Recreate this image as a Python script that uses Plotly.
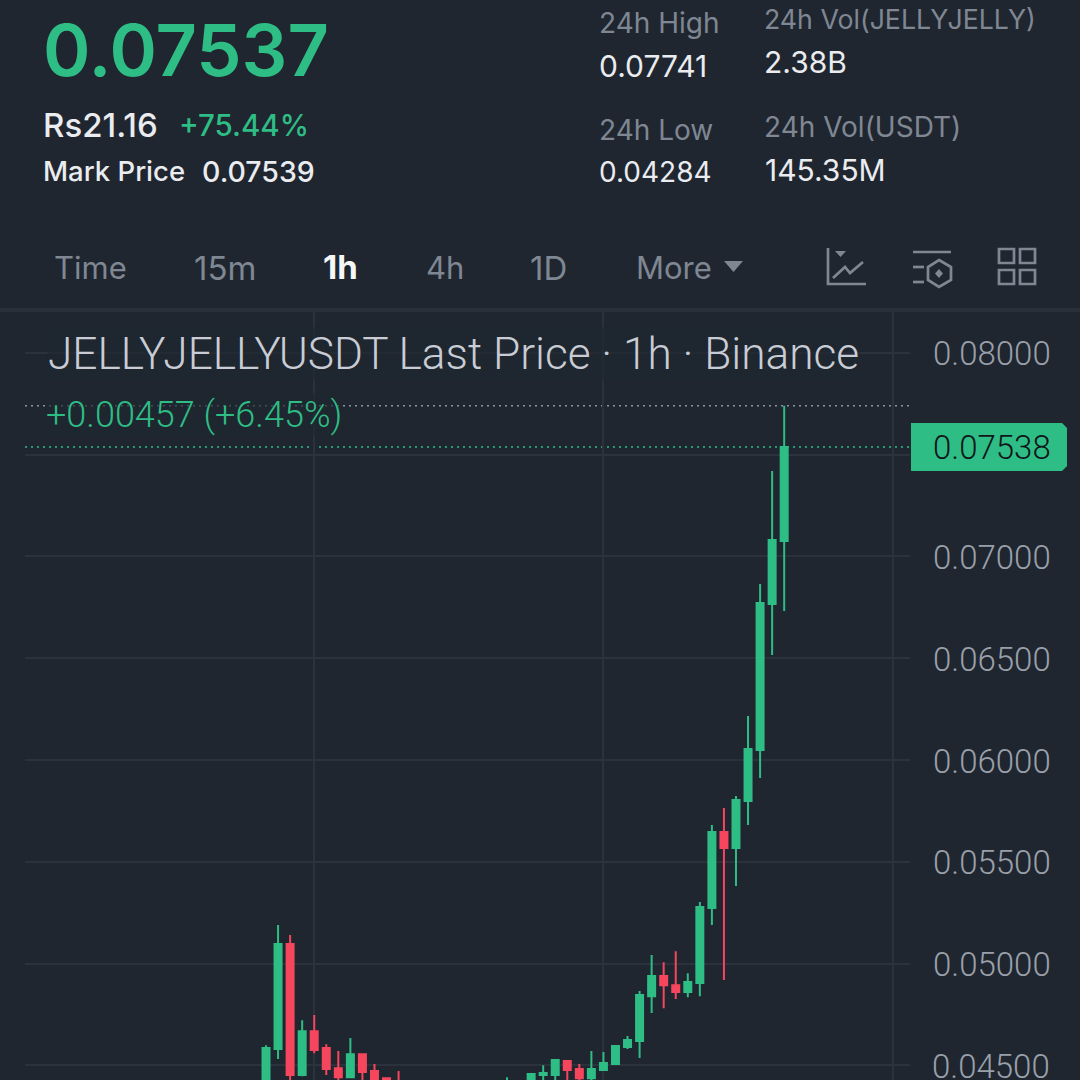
import plotly.graph_objects as go

# ---- data ----
OPEN = [0.0430,0.0458,0.05096,0.04452,0.04668,0.04585,0.04486,0.04442,0.04555,0.04472,0.04437,0.0442,
        0.0439,0.0436,0.0434,0.0433,0.0431,0.0430,0.0432,0.0431,0.0432,0.0433,0.0434,0.04452,0.04452,
        0.04521,0.04482,0.04437,0.04477,0.04506,0.0459,0.04619,0.0484,0.04939,0.04894,0.0486,0.04904,
        0.05273,0.05646,0.05568,0.05799,0.06049,0.06767,0.07076]
CLOSE = [0.04585,0.05096,0.04452,0.04668,0.04575,0.04482,0.04442,0.04555,0.04467,0.04432,0.0441,0.0439,
         0.0436,0.0434,0.0433,0.0431,0.0430,0.0432,0.0431,0.0432,0.0433,0.0434,0.04457,0.04462,0.04526,
         0.04477,0.04437,0.04482,0.04511,0.04595,0.04624,0.04845,0.04939,0.04894,0.0486,0.04909,0.05278,
         0.05646,0.05568,0.05803,0.06054,0.06771,0.07081,0.07538]
HIGH = [0.04599,0.05189,0.0514,0.04722,0.04747,0.04604,0.0457,0.04634,0.0456,0.04506,0.04437,0.04472,
        0.0438,0.0437,0.0436,0.0434,0.0433,0.0433,0.0434,0.0433,0.04442,0.0436,0.04462,0.04501,0.04531,
        0.04521,0.04506,0.0457,0.04565,0.04599,0.04644,0.04865,0.05042,0.05007,0.05061,0.04953,0.05302,
        0.05681,0.05764,0.05823,0.06216,0.06865,0.0742,0.07741]
LOW = [0.04284,0.04531,0.0441,0.04447,0.0456,0.04452,0.0441,0.0444,0.0441,0.0440,0.0438,0.0437,
       0.0434,0.0432,0.0431,0.0429,0.0429,0.0429,0.0430,0.0430,0.0431,0.0432,0.0432,0.0441,0.0442,
       0.0442,0.0442,0.0442,0.04477,0.04506,0.0458,0.04536,0.04757,0.04781,0.04826,0.04835,0.0484,
       0.05189,0.04919,0.05381,0.05681,0.05912,0.06516,0.06732]
CANDLE = list(range(len(OPEN)))

PRICE_TICKS = [0.08, 0.075, 0.07, 0.065, 0.06, 0.055, 0.05, 0.045]
PRICE_LABELS = ["0.08000", "", "0.07000", "0.06500", "0.06000", "0.05500", "0.05000", ""]
BOTTOM_TICK = 0.045
BOTTOM_LABEL = "0.04500"
TIME_TICKS = [4, 28, 52]
HIGH_LINE = 0.07741
LAST_LINE = 0.07538

STATS = [
    ("0.07537", 42, 49, 72, 600, "up"),
    ("Rs21.16", 42, 125, 33, 500, "white"),
    ("+75.44%", 178, 125, 29.5, 500, "up"),
    ("Mark Price", 42, 171, 27.5, 500, "white"),
    ("0.07539", 201, 171, 28.5, 500, "white"),
    ("24h High", 598, 23, 28, 400, "grey"),
    ("0.07741", 598, 66, 30, 400, "white"),
    ("24h Low", 598, 130, 28, 400, "grey"),
    ("0.04284", 598, 172, 28, 400, "white"),
    ("24h Vol(JELLYJELLY)", 763, 19, 26.7, 400, "grey"),
    ("2.38B", 763, 62, 30, 400, "white"),
    ("24h Vol(USDT)", 763, 127, 28, 400, "grey"),
    ("145.35M", 764, 170, 30, 400, "white"),
    ("Time", 53, 268, 31, 400, "grey"),
    ("15m", 193, 268, 33, 400, "grey"),
    ("1h", 322, 267, 33, 700, "bright"),
    ("4h", 425, 268, 31, 400, "grey"),
    ("1D", 529, 268, 33, 400, "grey"),
    ("More", 635, 268, 31, 400, "grey"),
]

BG = "#1f2630"
BG_MASK = "rgba(31,38,48,0.65)"
GRID = "#2b323c"
UP = "#2ebd85"
DOWN = "#f6465d"
GREY = "#7f8793"
WHITE = "#eaecef"
AXIS_TEXT = "#9aa0aa"
COLORS = {"up": UP, "white": WHITE, "grey": GREY, "bright": "#f5f6f8"}
W = H = 1080
HEAD_FONT = "Inter"
CHART_FONT = "Roboto"


def px(x):
    return x / W


def py(y):
    return 1 - y / H


def path(points, close=False):
    s = "M" + " L".join(f"{px(x):.5f},{py(y):.5f}" for x, y in points)
    return s + (" Z" if close else "")


def stroke(points, close=False, color=GREY, width=2.7):
    return dict(type="path", xref="paper", yref="paper", path=path(points, close),
                line=dict(color=color, width=width))


def fill(points, color=GREY):
    return dict(type="path", xref="paper", yref="paper", path=path(points, True),
                fillcolor=color, line=dict(color=color, width=0))


fig = go.Figure()
fig.add_trace(go.Candlestick(
    x=CANDLE, open=OPEN, high=HIGH, low=LOW, close=CLOSE,
    increasing=dict(line=dict(color=UP, width=2), fillcolor=UP),
    decreasing=dict(line=dict(color=DOWN, width=2), fillcolor=DOWN),
    hoverinfo="skip", showlegend=False,
))

shapes = [
    dict(type="line", xref="x domain", yref="y", x0=0, x1=1, y0=HIGH_LINE, y1=HIGH_LINE,
         line=dict(color="#8b929c", width=1.5, dash="2px,4px"), layer="below"),
    dict(type="line", xref="x domain", yref="y", x0=0, x1=1, y0=LAST_LINE, y1=LAST_LINE,
         line=dict(color=UP, width=1.5, dash="2px,4px"), layer="below"),
    # divider above the chart
    dict(type="rect", xref="paper", yref="paper", x0=0, x1=1, y0=py(312), y1=py(308),
         fillcolor="#2a3039", line=dict(width=0)),
    # last price badge
    dict(type="path", xref="paper", yref="paper",
         path=path([(911, 423), (1062, 423), (1067, 428), (1067, 466), (1062, 471), (911, 471)], True),
         fillcolor=UP, line=dict(width=0)),
    # More caret
    fill([(724, 261), (743, 261), (733.5, 272)], GREY),
    # chart-type icon
    stroke([(828, 248), (828, 284), (866, 284)]),
    stroke([(833, 278), (845, 267), (850, 273), (863, 262)]),
    fill([(835, 251), (846, 251), (840.5, 257)]),
    # settings icon
    stroke([(913, 252), (951, 252)]),
    stroke([(913, 267), (924, 267)]),
    stroke([(913, 282), (924, 282)]),
    stroke([(939, 260), (951, 267), (951, 280), (939, 287), (928, 280), (928, 267)], True),
    fill([(939, 269), (943, 273.5), (939, 278), (935, 273.5)]),
]
# layout icon
for x0, x1 in [(999, 1014), (1020, 1035)]:
    for y0, y1 in [(249, 263), (270, 284)]:
        shapes.append(stroke([(x0, y0), (x1, y0), (x1, y1), (x0, y1)], True))

annotations = [
    dict(text=t, x=px(x), y=py(y), xref="paper", yref="paper", xanchor="left", yanchor="middle",
         showarrow=False, borderpad=0,
         font=dict(family=HEAD_FONT, size=s, weight=w, color=COLORS[c]))
    for t, x, y, s, w, c in STATS
]
annotations += [
    dict(text="JELLYJELLYUSDT Last Price · 1h · Binance", x=px(47), y=py(354), xref="paper", yref="paper",
         xanchor="left", yanchor="middle", showarrow=False, bgcolor=BG_MASK, borderpad=0,
         font=dict(family=CHART_FONT, size=44.2, weight=300, color="#c9ccd4")),
    dict(text="+0.00457 (+6.45%)", x=px(45), y=py(415), xref="paper", yref="paper",
         xanchor="left", yanchor="middle", showarrow=False, bgcolor=BG_MASK, borderpad=0,
         font=dict(family=CHART_FONT, size=36, weight=300, color=UP)),
    dict(text=f"{LAST_LINE:.5f}", x=px(932), y=py(448), xref="paper", yref="paper",
         xanchor="left", yanchor="middle", showarrow=False, borderpad=0,
         font=dict(family=CHART_FONT, size=33, weight=300, color="#10151a")),
    # the lowest price label overhangs the page edge, so the axis would drop it
    dict(text=BOTTOM_LABEL, x=px(931), y=BOTTOM_TICK, xref="paper", yref="y",
         xanchor="left", yanchor="middle", showarrow=False, borderpad=0, yshift=-1,
         font=dict(family=CHART_FONT, size=33, weight=300, color=AXIS_TEXT)),
]

fig.update_layout(
    width=W, height=H, margin=dict(l=0, r=0, t=0, b=0),
    paper_bgcolor=BG, plot_bgcolor=BG, showlegend=False, boxgap=0.17,
    shapes=shapes, annotations=annotations,
    font=dict(family=CHART_FONT),
    xaxis=dict(domain=[px(25), px(910)], range=[-20, 53.44], tickvals=TIME_TICKS, showticklabels=False,
               showgrid=True, gridcolor=GRID, gridwidth=2, zeroline=False, rangeslider=dict(visible=False),
               ticks=""),
    yaxis=dict(domain=[0, py(312)], range=[0.04428, 0.08201], side="right", tickvals=PRICE_TICKS,
               ticktext=PRICE_LABELS, showgrid=True, gridcolor=GRID, gridwidth=2, zeroline=False,
               ticks="", ticklabelstandoff=22, ticklabelshift=1,
               tickfont=dict(family=CHART_FONT, size=33, weight=300, color=AXIS_TEXT)),
)

fig.write_html("out.html", config=dict(displayModeBar=False),
               post_script="document.body.style.margin='0';document.body.style.overflow='hidden';"
                           "document.documentElement.style.background='" + BG + "';")
